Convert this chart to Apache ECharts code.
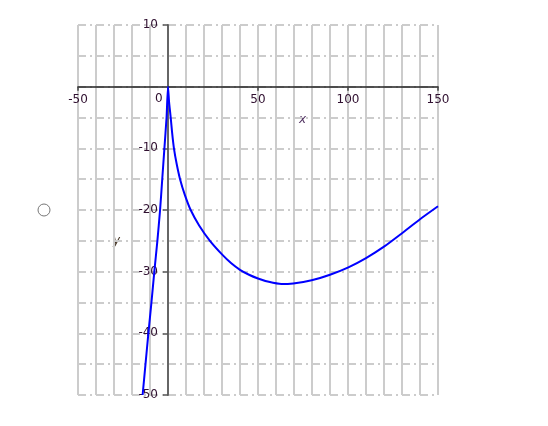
<!DOCTYPE html>
<html>
<head>
<meta charset="utf-8">
<script src="https://cdn.jsdelivr.net/npm/echarts@6/dist/echarts.min.js"></script>
<style>
html,body{margin:0;padding:0;background:#fff;}
#c{width:548px;height:426px;}
</style>
</head>
<body>
<div id="c"></div>
<script>
// Data
var xLabelTicks = [-50, 50, 100, 150];
var yLabelTicks = [10, -10, -20, -30, -40, -50];
var leftBranchX = [-14.1, -12.5, -10.9, -9.2, -7.6, -5.9, -4.4, -3.2, -2.0, -0.8, 0];
var leftBranchY = [-50, -45, -40, -35, -30, -25, -20, -15, -10, -5, 0];
var rightBranchX = [0, 0.6, 1.5, 2.3, 3.3, 4.8, 6.7, 9.3, 12.6, 17.3, 23.3, 30, 35, 40, 45, 50, 56, 63, 69.6, 79.8, 90, 100.2, 110, 120.2, 129.8, 140, 150];
var rightBranchY = [0, -2.5, -5, -7.5, -10, -12.5, -15, -17.5, -20, -22.5, -25, -27.2, -28.6, -29.7, -30.5, -31.1, -31.65, -32.0, -31.9, -31.4, -30.5, -29.3, -27.8, -25.9, -23.8, -21.5, -19.4];

var xMin = -50, xMax = 150, yMin = -50, yMax = 10;

var pts = [];
for (var i = 0; i < leftBranchX.length; i++) pts.push([leftBranchX[i], leftBranchY[i]]);
for (var j = 1; j < rightBranchX.length; j++) pts.push([rightBranchX[j], rightBranchY[j]]);

var W = 548, H = 426;
var G = { left: 78, right: 110, top: 25, bottom: 31 };
var gw = W - G.left - G.right, gh = H - G.top - G.bottom;
// move axes so they cross at the origin
var xAxisOffset = -(gh * (0 - yMin) / (yMax - yMin));
var yAxisOffset = -(gw * (0 - xMin) / (xMax - xMin));

var font = 'DejaVu Sans';
var chart = echarts.init(document.getElementById('c'));
chart.setOption({
  animation: false,
  backgroundColor: '#ffffff',
  grid: { left: G.left, right: G.right, top: G.top, bottom: G.bottom, containLabel: false },
  xAxis: [
    {
      type: 'value', min: xMin, max: xMax, interval: 50, position: 'bottom', offset: xAxisOffset,
      axisLine: { show: true, onZero: false, lineStyle: { color: '#222', width: 1.5 } },
      axisTick: { show: true, length: 4, lineStyle: { color: '#444', width: 1.5 } },
      axisLabel: {
        margin: 7, color: '#301030', fontFamily: font, fontSize: 12,
        formatter: function (v) { return xLabelTicks.indexOf(v) >= 0 ? String(v) : ''; }
      },
      splitLine: { show: false }
    },
    {
      type: 'value', min: xMin, max: xMax, interval: 10, position: 'top',
      axisLine: { show: false }, axisTick: { show: false }, axisLabel: { show: false },
      splitLine: { show: true, lineStyle: { color: '#cccccc', width: 2, type: 'solid' } }
    }
  ],
  yAxis: [
    {
      type: 'value', min: yMin, max: yMax, interval: 10, position: 'left', offset: yAxisOffset,
      axisLine: { show: true, onZero: false, lineStyle: { color: '#666', width: 2 } },
      axisTick: { show: true, length: 5, lineStyle: { color: '#555', width: 1.5 } },
      axisLabel: {
        margin: 10, color: '#301030', fontFamily: font, fontSize: 12,
        formatter: function (v) { return yLabelTicks.indexOf(v) >= 0 ? String(v) : ''; }
      },
      splitLine: { show: false }
    },
    {
      type: 'value', min: yMin, max: yMax, interval: 5, position: 'right',
      axisLine: { show: false }, axisTick: { show: false }, axisLabel: { show: false },
      splitLine: { show: true, lineStyle: { color: '#cccccc', width: 2, type: [8, 4, 2, 4] } }
    }
  ],
  series: [{
    type: 'line',
    xAxisIndex: 0, yAxisIndex: 0,
    data: pts,
    smooth: 0.2,
    showSymbol: false,
    lineStyle: { color: '#0000ff', width: 2 },
    z: 5
  }],
  graphic: [
    { type: 'text', left: 155, top: 93, style: { text: '0', font: '12px ' + font, fill: '#301030' } },
    { type: 'text', left: 299, top: 114, style: { text: 'x', font: 'italic 12px ' + font, fill: '#503060' } },
    { type: 'text', left: 113, top: 235, style: { text: 'y', font: 'italic 12px ' + font, fill: '#403020' } },
    { type: 'circle', shape: { cx: 44, cy: 210, r: 6 }, style: { fill: '#fff', stroke: '#777', lineWidth: 1 } }
  ]
});
</script>
</body>
</html>
